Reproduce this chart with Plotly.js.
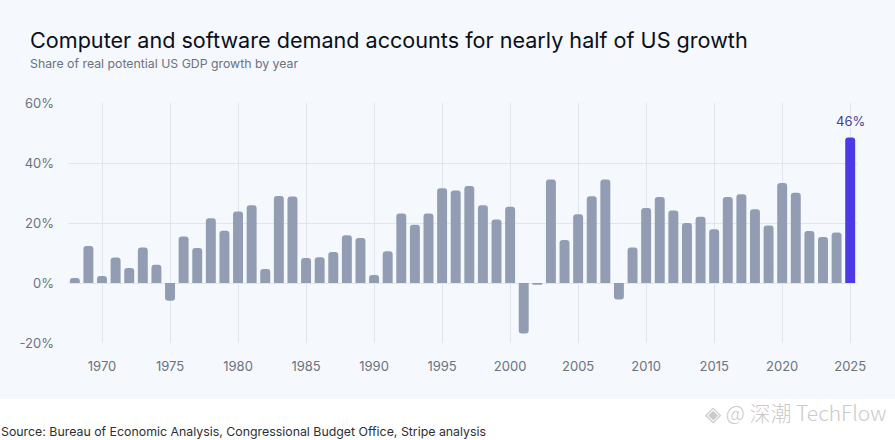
<!DOCTYPE html>
<html>
<head>
<meta charset="utf-8">
<script src="https://cdn.plot.ly/plotly-3.0.1.min.js"></script>
<style>
html,body{margin:0;padding:0;background:#ffffff;}
#chart{width:895px;height:440px;}
</style>
</head>
<body>
<div id="chart"></div>
<script>
const years = [1968,1969,1970,1971,1972,1973,1974,1975,1976,1977,1978,1979,1980,1981,1982,1983,1984,1985,1986,1987,1988,1989,1990,1991,1992,1993,1994,1995,1996,1997,1998,1999,2000,2001,2002,2003,2004,2005,2006,2007,2008,2009,2010,2011,2012,2013,2014,2015,2016,2017,2018,2019,2020,2021,2022,2023,2024,2025];
const shares = [1.7,12.3,2.3,8.5,5.0,11.8,6.1,-5.9,15.5,11.7,21.6,17.4,23.8,25.9,4.7,29.0,28.8,8.3,8.6,10.3,15.9,15.0,2.7,10.6,23.2,19.4,23.2,31.6,30.8,32.3,25.9,21.2,25.4,-16.8,-0.6,34.5,14.3,22.9,28.9,34.5,-5.5,11.8,25.0,28.7,24.2,20.0,22.1,17.9,28.7,29.6,24.6,19.2,33.3,30.1,17.3,15.3,16.8,48.5];
const highlightYear = 2025;
const highlightLabel = "46%";
const yTickVals = [-20,0,20,40,60];
const yTickText = ["-20%","0%","20%","40%","60%"];
const xTickVals = [1970,1975,1980,1985,1990,1995,2000,2005,2010,2015,2020,2025];

const grey = "#929db3";
const purple = "#4c3ae6";
const colors = years.map(y => y === highlightYear ? purple : grey);

const L = 68, R = 38, T = 103, B = 97;
const W = 895, H = 440;
const pw = W - L - R, ph = H - T - B;
const px = v => (v - L) / pw;
const py = v => (H - B - v) / ph;

const trace = {
  type: "bar",
  x: years,
  y: shares,
  marker: {color: colors, line: {width: 0}},
  hoverinfo: "x+y"
};

const layout = {
  width: W, height: H,
  margin: {l: L, r: R, t: T, b: B, pad: 0},
  paper_bgcolor: "#ffffff",
  plot_bgcolor: "rgba(0,0,0,0)",
  font: {family: "Inter, 'Noto Sans', sans-serif", color: "#6b7280", size: 13},
  showlegend: false,
  bargap: 0.27,
  barcornerradius: 3,
  xaxis: {
    range: [1967.5, 2025.5],
    tickvals: xTickVals,
    ticktext: xTickVals.map(String),
    showgrid: true,
    gridcolor: "#e2e6ec",
    gridwidth: 1,
    zeroline: false,
    showline: false,
    ticks: "",
    ticklabelstandoff: 14,
    tickfont: {size: 13, color: "#6b7280"},
    fixedrange: true
  },
  yaxis: {
    range: [-20, 60],
    tickvals: yTickVals,
    ticktext: yTickText,
    showgrid: true,
    gridcolor: "#e2e6ec",
    gridwidth: 1,
    zeroline: false,
    showline: false,
    ticks: "",
    ticklabelstandoff: 13,
    tickfont: {size: 13, color: "#6b7280"},
    fixedrange: true
  },
  shapes: [
    {type: "rect", xref: "paper", yref: "paper", layer: "below",
     x0: px(0), x1: px(895), y0: py(399), y1: py(0),
     fillcolor: "#f5f8fc", line: {width: 0}}
  ],
  annotations: [
    {xref: "paper", yref: "paper", x: px(28), y: py(40), xanchor: "left", yanchor: "middle",
     text: "Computer and software demand accounts for nearly half of US growth",
     showarrow: false, font: {size: 21.6, color: "#0a0f1a", family: "Inter, 'Noto Sans', sans-serif"}},
    {xref: "paper", yref: "paper", x: px(28), y: py(64), xanchor: "left", yanchor: "middle",
     text: "Share of real potential US GDP growth by year",
     showarrow: false, font: {size: 12.3, color: "#6b7280"}},
    {xref: "x", yref: "y", x: highlightYear, y: shares[years.indexOf(highlightYear)],
     yshift: 17, xanchor: "center", yanchor: "middle",
     text: highlightLabel, showarrow: false, font: {size: 13, color: "#4a3d98"}},
    {xref: "paper", yref: "paper", x: px(-1), y: py(431), xanchor: "left", yanchor: "middle",
     text: "Source: Bureau of Economic Analysis, Congressional Budget Office, Stripe analysis",
     showarrow: false, font: {size: 12.35, color: "#2b2f36"}},
    {xref: "paper", yref: "paper", x: px(888), y: py(412), xanchor: "right", yanchor: "middle",
     text: "◈ @ 深潮 TechFlow",
     showarrow: false, font: {size: 21, weight: 300, color: "#cacaca", family: "'Noto Sans CJK SC', 'Noto Sans', sans-serif"}}
  ]
};

Plotly.newPlot("chart", [trace], layout, {displayModeBar: false, staticPlot: true});
</script>
</body>
</html>
